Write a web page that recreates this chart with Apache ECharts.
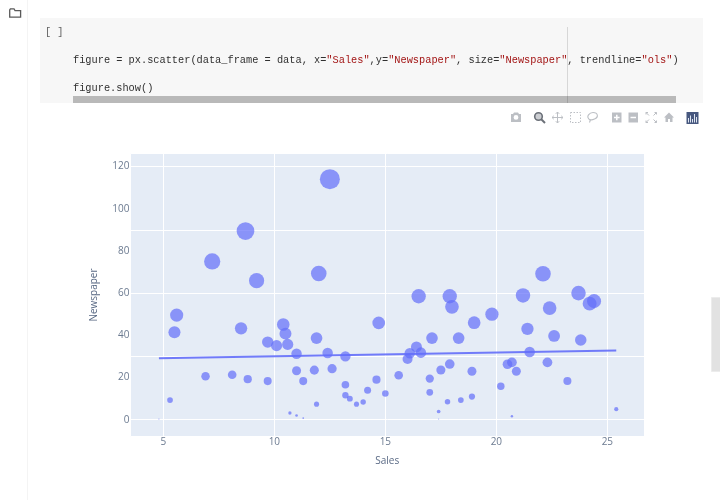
<!DOCTYPE html>
<html>
<head>
<meta charset="utf-8">
<style>html,body{margin:0;padding:0;background:#fff}#c{width:720px;height:500px}</style>
<script src="https://cdn.jsdelivr.net/npm/echarts@6/dist/echarts.min.js"></script>
</head>
<body>
<div id="c"></div>
<script>
const sales = [12.5,8.7,7.2,9.2,12,5.6,5.5,8.5,10.4,10.5,9.7,10.1,10.6,11,11.9,12.4,13.2,14.7,6.9,8.1,8.8,9.7,11,11.3,11.8,12.6,13.2,14.6,14.2,15,13.2,13.4,13.7,14,11.9,5.3,10.7,11,11.3,4.8,16.5,17.9,21.2,22.1,23.7,24.4,24.2,18,19.8,19,22.4,21.4,22.6,23.8,17.1,18.3,16.4,16.1,16.6,16,21.5,20.7,20.5,20.9,22.3,23.2,18.9,17.9,17.5,17,15.6,17,20.2,18.9,18.4,17.8,17.4,17.4,20.7,25.4];
const newspaper = [114,89.4,75,65.9,69.3,49.6,41.5,43.3,45.1,40.8,36.8,35.1,35.7,31.3,38.7,31.6,30,45.9,20.6,21.3,19.2,18.3,23.2,18.3,23.5,24.2,16.6,19,14,12.4,11.6,10,7.4,8.4,7.4,9.3,3.2,2,0.8,0.3,58.5,58.5,58.9,69.2,60,56.2,55,53.5,50,46,52.9,43.1,39.7,37.8,38.7,38.7,34.5,31.5,31.8,28.8,32.1,27.2,26.3,23,27.2,18.4,23,26.4,23.6,19.5,21.1,13,15.9,11,9.3,8.5,3.9,0.3,1.7,5];
const trendSales = [4.8,25.4];
const trendNewspaper = [29.1,32.8];
const xTicks = [5,10,15,20,25];
const yTicks = [0,20,40,60,80,100,120];
const xTitle = 'Sales';
const yTitle = 'Newspaper';
const codeLine1 = [['plain','figure = px.scatter(data_frame = data, x='],['str','"Sales"'],['plain',',y='],['str','"Newspaper"'],['plain',', size='],['str','"Newspaper"'],['plain',', trendline='],['str','"ols"'],['plain',')']];
const codeLine2 = 'figure.show()';
const cellPrompt = '[ ]';

const ink = '#bcbfc4';
let shapeCount = 0;
function pathEl(d, style){
  const name = 'iconPath' + (shapeCount++);
  echarts.graphic.registerShape(name, echarts.graphic.extendPath(d, {}));
  return {type:name, style:style};
}
const chrome = [
  {type:'rect',shape:{x:27,y:0,width:1,height:500},style:{fill:'#f4f4f4'}},
  {type:'rect',shape:{x:40,y:18,width:663,height:85},style:{fill:'#f7f7f7'}},
  {type:'rect',shape:{x:73,y:96,width:603,height:7},style:{fill:'#b9b9b9'}},
  {type:'rect',shape:{x:567,y:27,width:1,height:76},style:{fill:'rgba(0,0,0,0.13)'}},
  {type:'rect',shape:{x:711.5,y:297.5,width:9,height:74},style:{fill:'#e2e2e2',stroke:'#ececec',lineWidth:1}},
  pathEl('M9.7 10 L9.7 17.2 L20.6 17.2 L20.6 10.6 L15 10.6 L14 8.8 L10.4 8.8 Z',{fill:'none',stroke:'#5a5a5a',lineWidth:1.3}),
  {type:'text',style:{x:45,y:27.5,text:cellPrompt,font:'10.3px "Liberation Mono", monospace',fill:'#616161'}},
  {type:'text',style:{x:73,y:55.5,text:codeLine1.map(p=>'{'+p[0]+'|'+p[1]+'}').join(''),
    font:'10.3px "Liberation Mono", monospace',
    rich:{plain:{fill:'#303030',font:'10.3px "Liberation Mono", monospace'},str:{fill:'#a31515',font:'10.3px "Liberation Mono", monospace'}}}},
  {type:'text',style:{x:73,y:83.5,text:codeLine2,font:'10.3px "Liberation Mono", monospace',fill:'#303030'}},
  pathEl('M511 114 L513 114 L514 112.5 L518 112.5 L519 114 L521 114 L521 122 L511 122 Z M516 115 A2.4 2.4 0 1 0 516 119.8 A2.4 2.4 0 1 0 516 115 Z',{fill:ink}),
  {type:'circle',shape:{cx:538.5,cy:116.5,r:3.8},style:{fill:'rgba(110,115,125,0.35)',stroke:'#6b7078',lineWidth:1.6}},
  {type:'line',shape:{x1:541,y1:119,x2:545,y2:123},style:{stroke:'#6b7078',lineWidth:2}},
  pathEl('M557.5 112 L557.5 123 M552 117.5 L563 117.5 M555.8 113.8 L557.5 112 L559.2 113.8 M555.8 121.2 L557.5 123 L559.2 121.2 M553.8 115.8 L552 117.5 L553.8 119.2 M561.2 115.8 L563 117.5 L561.2 119.2',{fill:'none',stroke:ink,lineWidth:1}),
  {type:'rect',shape:{x:570.5,y:112.5,width:10,height:10},style:{fill:'none',stroke:ink,lineWidth:1,lineDash:[1.5,1.5]}},
  pathEl('M590 120 C585 116.5 590 112.5 593 112.5 C598 112.5 599 117 594.5 119 C593 119.7 591.5 120 590.5 119.7 L589.5 122.5',{fill:'none',stroke:ink,lineWidth:1.1}),
  {type:'rect',shape:{x:612,y:112.5,width:9.5,height:10},style:{fill:ink}},
  pathEl('M616.8 114.7 L616.8 120.3 M614 117.5 L619.6 117.5',{fill:'none',stroke:'#fff',lineWidth:1.5}),
  {type:'rect',shape:{x:628.5,y:112.5,width:9.5,height:10},style:{fill:ink}},
  pathEl('M630.5 117.5 L636 117.5',{fill:'none',stroke:'#fff',lineWidth:1.5}),
  pathEl('M646 112.5 L649 115.5 M656.5 112.5 L653.5 115.5 M646 122.5 L649 119.5 M656.5 122.5 L653.5 119.5 M646 112.5 L648 112.5 M646 112.5 L646 114.5 M656.5 112.5 L654.5 112.5 M656.5 112.5 L656.5 114.5 M646 122.5 L648 122.5 M646 122.5 L646 120.5 M656.5 122.5 L654.5 122.5 M656.5 122.5 L656.5 120.5',{fill:'none',stroke:ink,lineWidth:1}),
  pathEl('M669 112.5 L664 117.5 L665.5 117.5 L665.5 122 L668 122 L668 119 L670 119 L670 122 L672.5 122 L672.5 117.5 L674 117.5 Z',{fill:ink}),
  {type:'rect',shape:{x:686.5,y:112,width:12,height:12},style:{fill:'#47587f'}},
  pathEl('M688.5 122.5 L688.5 118 M690.5 122.5 L690.5 115.5 M692.5 122.5 L692.5 119 M694.5 122.5 L694.5 114 M696.5 122.5 L696.5 117',{fill:'none',stroke:'#dfe6f2',lineWidth:1})
];

const chart = echarts.init(document.getElementById('c'), null, {renderer:'canvas'});
const axisText = {color:'#6b7a90',fontSize:10,fontFamily:'"Open Sans", Roboto, sans-serif'};
chart.setOption({
  animation:false,
  backgroundColor:'#fff',
  graphic:{elements:chrome.map(e=>Object.assign({silent:true,z:-1},e))},
  grid:{left:130.5,top:153.5,width:513.5,height:283,backgroundColor:'#e5ecf6',show:true,borderWidth:0},
  xAxis:{type:'value',min:3.52,max:26.65,
    name:xTitle,nameLocation:'middle',nameGap:20,
    nameTextStyle:{color:'#5a6a85',fontSize:10,fontFamily:'"Open Sans", Roboto, sans-serif'},
    axisLine:{show:false},axisTick:{show:false},
    axisLabel:{...axisText,margin:1,customValues:xTicks,formatter:v=>String(v)},
    splitLine:{show:true,lineStyle:{color:'#fff',width:1}},
    customValues:xTicks},
  yAxis:{type:'value',min:-7.94,max:126.16,
    name:yTitle,nameLocation:'middle',nameGap:31,
    nameTextStyle:{color:'#5a6a85',fontSize:10,fontFamily:'"Open Sans", Roboto, sans-serif'},
    axisLine:{show:false},axisTick:{show:false},
    axisLabel:{...axisText,margin:1,customValues:yTicks,formatter:v=>String(v)},
    splitLine:{show:true,lineStyle:{color:'#fff',width:1}},
    customValues:yTicks},
  series:[
    {type:'scatter',data:sales.map((s,i)=>[s,newspaper[i]]),
      symbolSize:d=>20*Math.sqrt(d[1]/114),
      itemStyle:{color:'#636efa',opacity:0.7,borderWidth:0},
      emphasis:{disabled:true},clip:true,z:2},
    {type:'line',data:trendSales.map((s,i)=>[s,trendNewspaper[i]]),
      symbol:'none',lineStyle:{color:'#636efa',width:2,opacity:0.9},
      emphasis:{disabled:true},z:3}
  ]
});
</script>
</body>
</html>
